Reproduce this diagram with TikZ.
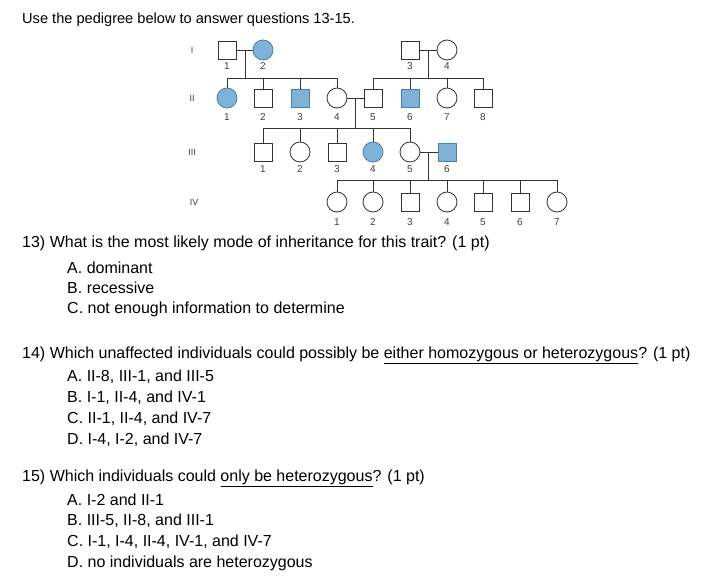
\documentclass[tikz,border=0pt]{standalone}
\usepackage{fontspec}
\setmainfont{Liberation Sans}
\definecolor{affc}{RGB}{127,178,214}
\definecolor{affd}{RGB}{70,130,170}
\begin{document}
\begin{tikzpicture}[x=1pt,y=-1pt,
  m/.style={draw=black!80,line width=0.8pt,minimum size=18pt,inner sep=0pt},
  f/.style={m,circle,minimum size=20pt},
  aff/.style={fill=affc,draw=affd},
  lbl/.style={font=\fontsize{10}{11}\selectfont,text=black!75},
  gen/.style={font=\fontsize{9}{10}\selectfont,text=black!75},
  q/.style={anchor=west,font=\fontsize{16}{18}\selectfont,inner sep=0pt},
  ln/.style={draw=black!80,line width=0.8pt}]
\useasboundingbox (0,0) rectangle (710,586);
% generation labels
\node[gen] (gI) at (192,50) {I};
\node[gen] (gII) at (192,98) {II};
\node[gen] (gIII) at (192,152) {III};
\node[gen] (gIV) at (194,202) {IV};
% Gen I
\node[m] (I1) at (227,50) {};
\node[f,aff] (I2) at (263,50) {};
\node[m] (I3) at (410,50) {};
\node[f] (I4) at (447,50) {};
% Gen II
\node[f,aff] (II1) at (227,98) {};
\node[m] (II2) at (263,98) {};
\node[m,aff] (II3) at (300,98) {};
\node[f] (II4) at (337,98) {};
\node[m] (II5) at (373,98) {};
\node[m,aff] (II6) at (410,98) {};
\node[f] (II7) at (447,98) {};
\node[m] (II8) at (483,98) {};
% Gen III
\node[m] (III1) at (263,152) {};
\node[f] (III2) at (300,152) {};
\node[m] (III3) at (337,152) {};
\node[f,aff] (III4) at (373,152) {};
\node[f] (III5) at (410,152) {};
\node[m,aff] (III6) at (447,152) {};
% Gen IV
\node[f] (IV1) at (337,202) {};
\node[f] (IV2) at (373,202) {};
\node[m] (IV3) at (410,202) {};
\node[f] (IV4) at (447,202) {};
\node[m] (IV5) at (483,202) {};
\node[m] (IV6) at (520,202) {};
\node[f] (IV7) at (557,202) {};
% numbers
\foreach \n/\t in {I1/1,I2/2,I3/3,I4/4}{\node[lbl] (l\n) at ([yshift=-16pt]\n.center) {\t};}
\foreach \n/\t in {II1/1,II2/2,II3/3,II4/4,II5/5,II6/6,II7/7,II8/8}{\node[lbl] (l\n) at ([yshift=-19pt]\n.center) {\t};}
\foreach \n/\t in {III1/1,III2/2,III3/3,III4/4,III5/5,III6/6}{\node[lbl] (l\n) at ([yshift=-17pt]\n.center) {\t};}
\foreach \n/\t in {IV1/1,IV2/2,IV3/3,IV4/4,IV5/5,IV6/6,IV7/7}{\node[lbl] (l\n) at ([yshift=-20pt]\n.center) {\t};}
% couples
\coordinate (c1) at (245,50); \coordinate (c2) at (428,50);
\coordinate (c3) at (355,98); \coordinate (c4) at (428,152);
\draw[ln] (I1) -- (I2); \draw[ln] (I3) -- (I4);
\draw[ln] (II4) -- (II5); \draw[ln] (III5) -- (III6);
% sibships
\coordinate (b1) at (245,78); \coordinate (b2) at (428,78);
\coordinate (b3) at (355,128); \coordinate (b4) at (428,180);
\draw[ln] (c1) -- (b1); \draw[ln] (c2) -- (b2); \draw[ln] (c3) -- (b3); \draw[ln] (c4) -- (b4);
\draw[ln] (II1.north |- b1) -- (II4.north |- b1);
\foreach \k in {II1,II2,II3,II4}{\draw[ln] (\k.north |- b1) -- (\k.north);}
\draw[ln] (II5.north |- b2) -- (II8.north |- b2);
\foreach \k in {II5,II6,II7,II8}{\draw[ln] (\k.north |- b2) -- (\k.north);}
\draw[ln] (III1.north |- b3) -- (III5.north |- b3);
\foreach \k in {III1,III2,III3,III4,III5}{\draw[ln] (\k.north |- b3) -- (\k.north);}
\draw[ln] (IV1.north |- b4) -- (IV7.north |- b4);
\foreach \k in {IV1,IV2,IV3,IV4,IV5,IV6,IV7}{\draw[ln] (\k.north |- b4) -- (\k.north);}
% text
\node[q,font=\fontsize{14.6}{16}\selectfont] (t0) at (22,20) {Use the pedigree below to answer questions 13-15.};
\node[q] (q13) at (22,243) {13) What is the most likely mode of inheritance for this trait? (1 pt)};
\node[q] (q13a) at (67,268) {A. dominant};
\node[q] (q13b) at (67,288) {B. recessive};
\node[q] (q13c) at (67,309) {C. not enough information to determine};
\node[q] (q14) at (22,355) {14) Which unaffected individuals could possibly be \underline{either homozygous or heterozygous}? (1 pt)};
\node[q] (q14a) at (67,377) {A. II-8, III-1, and III-5};
\node[q] (q14b) at (67,398) {B. I-1, II-4, and IV-1};
\node[q] (q14c) at (67,419) {C. II-1, II-4, and IV-7};
\node[q] (q14d) at (67,440) {D. I-4, I-2, and IV-7};
\node[q] (q15) at (22,478) {15) Which individuals could \underline{only be heterozygous}? (1 pt)};
\node[q] (q15a) at (67,500) {A. I-2 and II-1};
\node[q] (q15b) at (67,521) {B. III-5, II-8, and III-1};
\node[q] (q15c) at (67,542) {C. I-1, I-4, II-4, IV-1, and IV-7};
\node[q] (q15d) at (67,563) {D. no individuals are heterozygous};
\end{tikzpicture}
\end{document}
